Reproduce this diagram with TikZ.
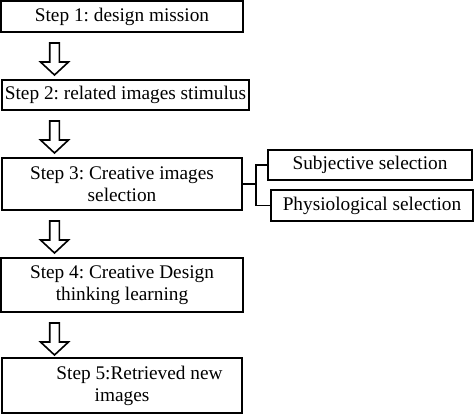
\documentclass[tikz,border=0pt]{standalone}
\usepackage{fontspec}
\setmainfont{Liberation Serif}
\usetikzlibrary{calc}
\frenchspacing
\tikzset{
  stepbox/.style={draw=black, line width=2pt, inner sep=0pt, align=center,
    font=\fontsize{19.3}{22}\selectfont},
  conn/.style={draw=black, line width=1.5pt},
  arrowline/.style={draw=black, line width=1.6pt, line join=miter, fill=white},
  pics/downarrow/.style={code={
    \draw[arrowline] (-4.8,0) -- (-4.8,19) -- (-14,19) -- (0,32) -- (14,19)
      -- (4.8,19) -- (4.8,0) -- cycle;}}
}
\begin{document}
\begin{tikzpicture}[x=1pt,y=-1pt]
\useasboundingbox[fill=white] (0,0) rectangle (474,414);
\node[stepbox, minimum width=242, minimum height=31] (b1) at (122,16.5) {Step 1: design mission};
\node[stepbox, minimum width=247, minimum height=30] (b2) at (125.5,95) {Step 2: related images stimulus};
\node[stepbox, minimum width=240, minimum height=52] (b3) at (122,184) {Step 3: Creative images\\selection};
\node[stepbox, minimum width=242, minimum height=54] (b4) at (122,285) {Step 4: Creative Design\\thinking learning};
\node[stepbox, minimum width=240, minimum height=55] (b5) at (122,385.5) {\hspace*{35pt}Step 5:Retrieved new\\images};
\node[stepbox, minimum width=204, minimum height=30] (s) at (370,165) {Subjective selection};
\node[stepbox, minimum width=202, minimum height=31] (p) at (372,205.5) {Physiological selection};
% block arrows
\pic at ($(b1.south west)+(54.5,10)$) {downarrow};
\pic at ($(b2.south west)+(53.5,10)$) {downarrow};
\pic at ($(b3.south west)+(53.5,10)$) {downarrow};
\pic at ($(b4.south west)+(54.5,10)$) {downarrow};
% bracket
\draw[conn] (b3.east) -- ++(13,0) coordinate (br);
\draw[conn] (s.west) -| (br) |- (p.west);
\end{tikzpicture}
\end{document}
